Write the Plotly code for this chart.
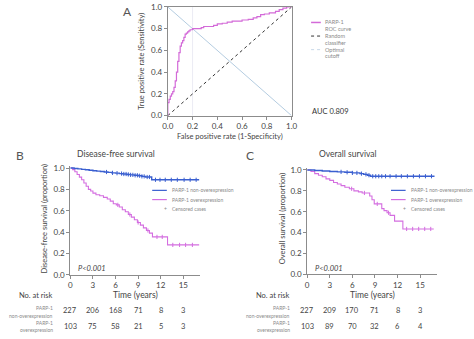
import numpy as np
import plotly.graph_objects as go

W, H = 474, 339
FONT = "Lato"

# ---------------- Panel A: ROC ----------------
roc_fpr = [0, 0, 0.01, 0.02, 0.03, 0.04, 0.05, 0.06, 0.07, 0.08, 0.09, 0.10, 0.11, 0.12,
           0.13, 0.14, 0.15, 0.16, 0.17, 0.18, 0.20, 0.24, 0.27, 0.29, 0.33, 0.37, 0.40,
           0.44, 0.48, 0.52, 0.56, 0.60, 0.65, 0.69, 0.72, 0.75, 0.78, 0.82, 0.87, 0.90,
           0.93, 0.96, 1.0]
roc_tpr = [0, 0.12, 0.15, 0.18, 0.20, 0.22, 0.26, 0.32, 0.40, 0.50, 0.58, 0.64, 0.67, 0.69,
           0.72, 0.75, 0.76, 0.77, 0.78, 0.79, 0.80, 0.80, 0.81, 0.82, 0.82, 0.83, 0.845,
           0.85, 0.86, 0.87, 0.87, 0.88, 0.885, 0.90, 0.91, 0.93, 0.935, 0.945, 0.96, 0.975,
           0.99, 1.0, 1.0]
auc_value = 0.809
optimal_fpr = 0.2
roc_ticks = [0.0, 0.2, 0.4, 0.6, 0.8, 1.0]

# ---------------- Panel B: disease-free survival ----------------
dfs_non_t = [0, 0.5, 1.0, 1.5, 2.0, 2.5, 3.0, 3.5, 4.0, 4.5, 5.0, 5.5, 6.0, 6.5, 7.0, 7.5,
             8.0, 8.5, 9.0, 9.5, 10.0, 10.8, 17.1]
dfs_non_s = [1.0, 0.996, 0.992, 0.988, 0.984, 0.979, 0.975, 0.971, 0.967, 0.963, 0.959,
             0.955, 0.952, 0.948, 0.944, 0.94, 0.936, 0.932, 0.928, 0.922, 0.916, 0.89, 0.89]
dfs_over_t = [0, 0.3, 0.6, 0.9, 1.2, 1.5, 1.8, 2.1, 2.4, 2.7, 3.0, 3.4, 3.9, 4.4, 4.9, 5.3,
              5.7, 6.1, 6.5, 6.9, 7.3, 7.7, 8.1, 8.5, 8.9, 9.3, 9.7, 10.1, 10.5, 10.9, 12.9, 17.1]
dfs_over_s = [1.0, 0.985, 0.965, 0.94, 0.915, 0.89, 0.86, 0.83, 0.80, 0.785, 0.765, 0.75,
              0.74, 0.725, 0.71, 0.69, 0.665, 0.655, 0.635, 0.61, 0.59, 0.565, 0.54, 0.515,
              0.49, 0.465, 0.44, 0.415, 0.39, 0.355, 0.28, 0.28]
dfs_non_cens = [4.8, 5.6, 6.2, 6.8, 7.1, 7.4, 7.7, 8.0, 8.3, 8.6, 8.9, 9.2, 9.5, 9.8, 10.2,
                10.5, 11.3, 11.9, 12.6, 13.4, 14.2, 15.1, 15.9, 16.7]
dfs_over_cens = [6.3, 7.9, 9.0, 10.3, 11.5, 12.2, 13.6, 14.5, 15.3, 16.2]

# ---------------- Panel C: overall survival ----------------
os_non_t = [0, 1, 2, 3, 4, 5, 6, 7, 7.5, 8.0, 8.4, 16.9]
os_non_s = [1.0, 0.995, 0.99, 0.986, 0.982, 0.978, 0.972, 0.965, 0.958, 0.95, 0.94, 0.94]
os_over_t = [0, 0.5, 1.0, 1.5, 2.0, 2.5, 3.0, 3.5, 4.0, 4.5, 5.0, 5.6, 6.2, 6.8, 7.3, 8.3,
             8.6, 8.9, 9.9, 10.2, 10.6, 11.0, 11.6, 12.7, 16.8]
os_over_s = [1.0, 0.985, 0.965, 0.95, 0.935, 0.915, 0.90, 0.88, 0.865, 0.85, 0.835, 0.82,
             0.80, 0.79, 0.78, 0.75, 0.715, 0.675, 0.63, 0.61, 0.59, 0.565, 0.51, 0.435, 0.435]
os_non_cens = [4.5, 5.3, 6.0, 6.6, 7.2, 7.8, 8.2, 8.7, 9.1, 9.5, 9.9, 10.4, 11.0, 11.8,
               12.5, 13.3, 14.1, 14.9, 15.7, 16.5]
os_over_cens = [5.9, 7.6, 9.3, 10.8, 13.2, 14.0, 14.8, 15.6, 16.4]

km_ticks = [0, 3, 6, 9, 12, 15]
risk_dfs_non = [227, 206, 168, 71, 8, 3]
risk_dfs_over = [103, 75, 58, 21, 5, 3]
risk_os_non = [227, 209, 170, 71, 8, 3]
risk_os_over = [103, 89, 70, 32, 6, 4]

BLUE = "#3a5fd0"
PINK = "#d46ee0"
ROC_PINK = "#d36ad8"
GREY_AX = "#8c8c8c"
TXT = "#444444"
LIGHT_TXT = "#8a8a8a"


def px(x):
    return x / W


def py(y):
    return 1 - y / H


def step_at(ts, ss, t):
    idx = np.searchsorted(np.asarray(ts), t, side="right") - 1
    return np.asarray(ss)[idx]


fig = go.Figure()

# ROC panel traces
fig.add_trace(go.Scatter(x=[optimal_fpr, optimal_fpr], y=[0, 1], mode="lines",
                         line=dict(color="#ececf4", width=1), xaxis="x", yaxis="y",
                         hoverinfo="skip"))
fig.add_trace(go.Scatter(x=[0, 1], y=[1, 0], mode="lines",
                         line=dict(color="#b4cce0", width=1), xaxis="x", yaxis="y"))
fig.add_trace(go.Scatter(x=[0, 1], y=[0, 1], mode="lines",
                         line=dict(color="#333333", width=1, dash="dot"), xaxis="x", yaxis="y"))
fig.add_trace(go.Scatter(x=roc_fpr, y=roc_tpr, mode="lines", line_shape="hv",
                         line=dict(color=ROC_PINK, width=1.2), xaxis="x", yaxis="y"))


def km_panel(xa, ya, t_non, s_non, t_over, s_over, c_non, c_over):
    fig.add_trace(go.Scatter(x=t_over, y=s_over, mode="lines", line_shape="hv",
                             line=dict(color=PINK, width=1.1), xaxis=xa, yaxis=ya))
    fig.add_trace(go.Scatter(x=t_non, y=s_non, mode="lines", line_shape="hv",
                             line=dict(color=BLUE, width=1.4), xaxis=xa, yaxis=ya))
    fig.add_trace(go.Scatter(x=c_over, y=step_at(t_over, s_over, c_over), mode="markers",
                             marker=dict(symbol="line-ns", size=3,
                                         line=dict(color=PINK, width=1)),
                             xaxis=xa, yaxis=ya))
    fig.add_trace(go.Scatter(x=c_non, y=step_at(t_non, s_non, c_non), mode="markers",
                             marker=dict(symbol="line-ns", size=3,
                                         line=dict(color=BLUE, width=1)),
                             xaxis=xa, yaxis=ya))


km_panel("x2", "y2", dfs_non_t, dfs_non_s, dfs_over_t, dfs_over_s, dfs_non_cens, dfs_over_cens)
km_panel("x3", "y3", os_non_t, os_non_s, os_over_t, os_over_s, os_non_cens, os_over_cens)

axis_common = dict(showgrid=False, zeroline=False, showline=True, linecolor=GREY_AX,
                   linewidth=1, ticks="outside", ticklen=3, tickcolor=GREY_AX,
                   ticklabeloverflow="allow",
                   tickfont=dict(family=FONT, size=8, color=TXT))

# KM axes span 7.73 px per year
km_range = [0, 17.2]
km_px = 7.73 * km_range[1]

fig.update_layout(
    width=W, height=H, margin=dict(l=0, r=0, t=0, b=0),
    paper_bgcolor="white", plot_bgcolor="white", showlegend=False,
    font=dict(family=FONT, color=TXT),
    xaxis=dict(axis_common, domain=[px(166), px(293)], range=[0, 1], anchor="y",
               tickvals=roc_ticks, ticktext=[f"{v:.1f}" for v in roc_ticks],
               mirror=True),
    yaxis=dict(axis_common, domain=[py(114), py(2)], range=[0, 1], anchor="x",
               tickvals=roc_ticks, ticktext=[f"{v:.1f}" for v in roc_ticks],
               mirror=True),
    xaxis2=dict(axis_common, domain=[px(66), px(66 + km_px)], range=km_range, anchor="y2",
                tickvals=km_ticks),
    yaxis2=dict(axis_common, domain=[py(278), py(278 - 1.02 * 110)], range=[0, 1.02],
                anchor="x2", tickvals=roc_ticks,
                ticktext=[f"{v:.1f}" for v in roc_ticks]),
    xaxis3=dict(axis_common, domain=[px(309), px(309 + km_px)], range=km_range, anchor="y3",
                tickvals=km_ticks),
    yaxis3=dict(axis_common, domain=[py(277.5), py(277.5 - 1.02 * 107.5)], range=[0, 1.02],
                anchor="x3", tickvals=roc_ticks,
                ticktext=[f"{v:.1f}" for v in roc_ticks]),
)

ann = []


def text(x, y, s, size=8, color=TXT, xanchor="left", angle=0, xref="paper"):
    ann.append(dict(x=x if xref != "paper" else px(x), y=py(y), xref=xref, yref="paper",
                    text=s, showarrow=False, xanchor=xanchor, yanchor="middle",
                    textangle=angle, font=dict(family=FONT, size=size, color=color)))


# Panel letters and titles
text(118, 7, "A", size=12, color="#555555")
text(8, 155, "B", size=12, color="#555555")
text(244, 155, "C", size=12, color="#555555")
text(113, 154, "Disease-free survival", size=8.5, xanchor="center")
text(350, 154, "Overall survival", size=8.5, xanchor="center")

# ROC labels
text(230, 136, "False positive rate (1-Specificity)", size=7.5, xanchor="center")
text(139, 58, "True positive rate (Sensitivity)", size=7.5, xanchor="center", angle=-90)
text(312, 110, f"AUC {auc_value}", size=7.5, color="#333333")

# ROC legend
shapes = []


def hline(x0, x1, y, color, width=1, dash="solid"):
    shapes.append(dict(type="line", xref="paper", yref="paper", x0=px(x0), x1=px(x1),
                       y0=py(y), y1=py(y), line=dict(color=color, width=width, dash=dash)))


hline(313, 323, 18, ROC_PINK, 1.5)
text(325, 18, "PARP-1", size=5.5, color=LIGHT_TXT)
text(325, 25, "ROC curve", size=5.5, color=LIGHT_TXT)
hline(313, 323, 32, "#333333", 1, "dot")
text(325, 32, "Random", size=5.5, color=LIGHT_TXT)
text(325, 39, "classifier", size=5.5, color=LIGHT_TXT)
hline(313, 323, 46, "#c8d8e8", 1, "dot")
text(325, 46, "Optimal", size=5.5, color=LIGHT_TXT)
text(325, 53, "cutoff", size=5.5, color=LIGHT_TXT)

# KM panel labels
for ytitle, ycx in [("Disease-free survival (proportion)", 40),
                    ("Overall survival (proportion)", 284)]:
    text(ycx, 220, ytitle, size=7.5, xanchor="center", angle=-90)

for leg_x in (150, 395):
    hline(leg_x, leg_x + 15, 191, BLUE, 1.2)
    text(leg_x + 18, 191, "PARP-1 non-overexpression", size=5, color=LIGHT_TXT)
    hline(leg_x, leg_x + 15, 200.5, PINK, 1.2)
    text(leg_x + 18, 200.5, "PARP-1 overexpression", size=5, color=LIGHT_TXT)
    text(leg_x + 14, 210, "+", size=5, color=LIGHT_TXT, xanchor="center")
    text(leg_x + 18, 210, "Censored cases", size=5, color=LIGHT_TXT)

text(72, 271, "<i>P</i><i><0.001</i>", size=7.5)
text(315, 271, "<i>P</i><i><0.001</i>", size=7.5)

text(133, 299, "Time (years)", size=8.5, xanchor="center")
text(376, 299, "Time (years)", size=8.5, xanchor="center")
text(50, 299, "No. at risk", size=7.5, xanchor="right")
text(293, 299, "No. at risk", size=7.5, xanchor="right")

for right in (50, 293):
    text(right, 312, "PARP-1", size=5, color=LIGHT_TXT, xanchor="right")
    text(right, 320, "non-overexpression", size=5, color=LIGHT_TXT, xanchor="right")
    text(right, 328, "PARP-1", size=5, color=LIGHT_TXT, xanchor="right")
    text(right, 335, "overexpression", size=5, color=LIGHT_TXT, xanchor="right")

for xref, r1, r2 in [("x2", risk_dfs_non, risk_dfs_over), ("x3", risk_os_non, risk_os_over)]:
    for t, a, b in zip(km_ticks, r1, r2):
        text(t, 315, str(a), size=7.5, xanchor="center", xref=xref)
        text(t, 331.5, str(b), size=7.5, xanchor="center", xref=xref)

fig.update_layout(annotations=ann, shapes=shapes)
fig.write_html("out.html")
